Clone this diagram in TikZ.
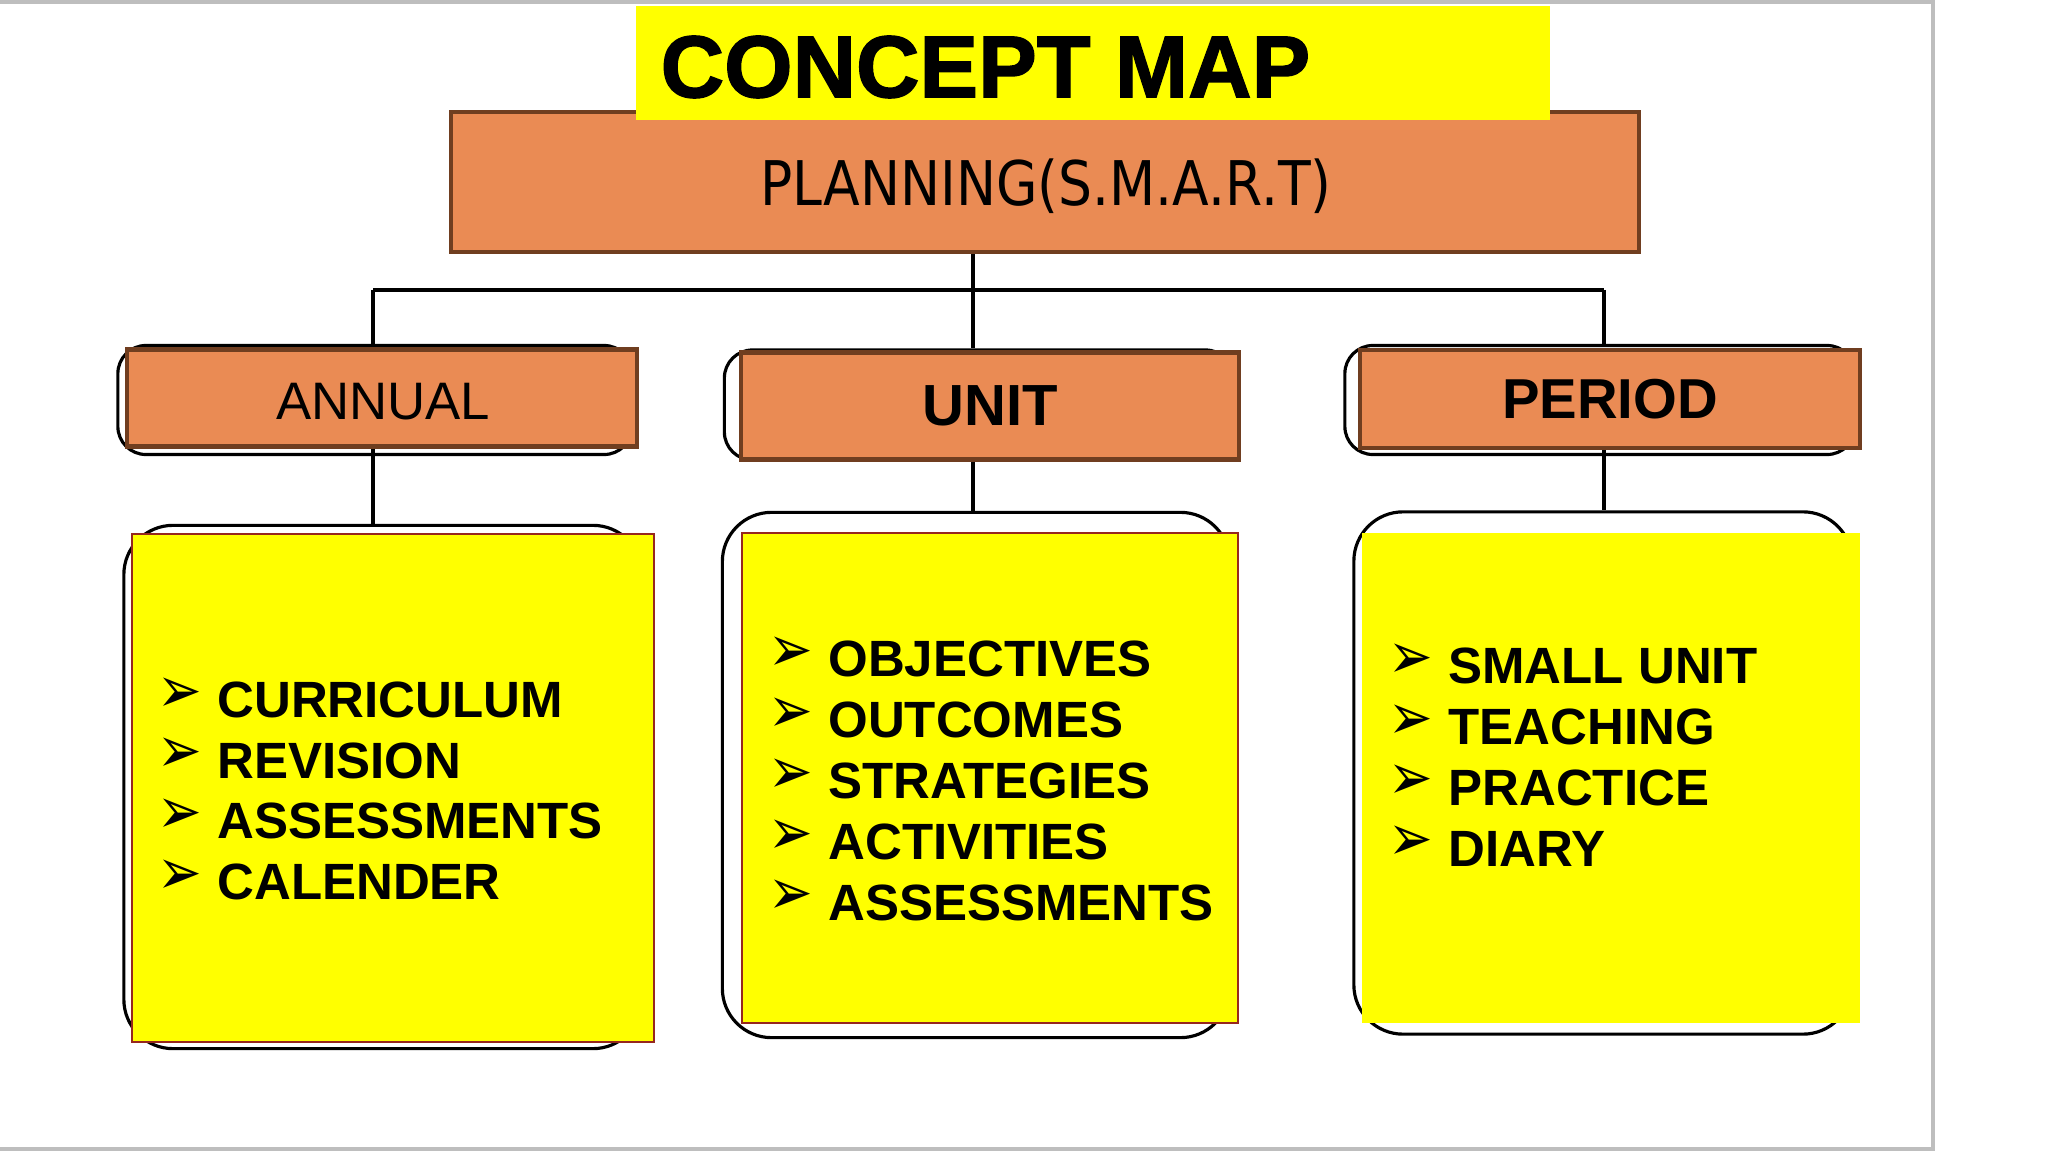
\documentclass[tikz,border=0pt]{standalone}
\usepackage{fontspec}
\setmainfont{Liberation Sans}
\newfontfamily\planfont[FakeStretch=0.87]{DejaVu Sans}
\newfontfamily\dingfont{DejaVu Sans}
\newfontfamily\titlefont[BoldFeatures={FakeBold=1.6}]{Liberation Sans}
\usetikzlibrary{positioning,calc}

\definecolor{boxorange}{RGB}{234,139,84}
\definecolor{boxbrown}{RGB}{112,62,32}
\definecolor{listyellow}{RGB}{255,255,0}
\definecolor{listred}{RGB}{150,40,30}
\definecolor{framegray}{RGB}{190,190,190}

\newcommand{\bul}{\makebox[17pt][l]{\smash{\raisebox{1.5pt}{\scalebox{0.92}[1.12]{\dingfont\fontsize{16.5}{16.5}\selectfont ➢}}}}}

\begin{document}
\begin{tikzpicture}[x=0.01cm,y=-0.01cm,
    head/.style={draw=boxbrown,line width=1.2pt,fill=boxorange,inner sep=0pt},
    shade/.style={draw=black,line width=0.9pt,rounded corners=8pt,inner sep=0pt},
    listbox/.style={fill=listyellow,inner sep=0pt},
    listback/.style={draw=black,line width=0.9pt,rounded corners=14pt,inner sep=0pt},
    items/.style={anchor=west,align=left,inner sep=0pt,
      font=\bfseries\fontsize{14.5}{17.3}\selectfont},
    link/.style={draw=black,line width=1.1pt}]
  \useasboundingbox (0,0) rectangle (2048,1152);
  \draw[framegray,line width=1.2pt] (0,2) -- (1933,2) -- (1933,1149) -- (0,1149);

  % top
  \node[head,minimum width=11.88cm,minimum height=1.40cm] (planning) at (1045,182) {};
  \node[inner sep=0pt] (planningtext) at (1046,186)
    {\planfont\fontsize{17.5}{20}\selectfont PLANNING(S.M.A.R.T)};
  \node[fill=listyellow,minimum width=9.14cm,minimum height=1.13cm,inner sep=0pt] (titlebox) at (1093,63) {};
  \node[anchor=west,inner sep=0pt,font=\titlefont\bfseries\fontsize{25}{27}\selectfont] (title) at (660,67) {CONCEPT MAP};

  % second row
  \node[shade,minimum width=5.14cm,minimum height=1.09cm] (annualshade) at (375,400) {};
  \node[shade,minimum width=5.09cm,minimum height=1.10cm] (unitshade) at (979,405) {};
  \node[shade,minimum width=5.10cm,minimum height=1.09cm] (periodshade) at (1600,400) {};
  \node[head,minimum width=5.10cm,minimum height=0.97cm] (annual) at (382,398) {};
  \node[inner sep=0pt] (annualtext) at (383,402) {\fontsize{15}{17}\selectfont ANNUAL};
  \node[head,minimum width=4.98cm,minimum height=1.07cm] (unit) at (990,406)
    {\bfseries\fontsize{16.5}{18}\selectfont UNIT};
  \node[head,minimum width=4.99cm,minimum height=0.98cm] (period) at (1610,399)
    {\bfseries\fontsize{16}{18}\selectfont PERIOD};

  % third row
  \node[listback,minimum width=5.18cm,minimum height=5.23cm] (annualback) at (383,787) {};
  \node[listback,minimum width=5.07cm,minimum height=5.25cm] (unitback) at (976,775) {};
  \node[listback,minimum width=4.98cm,minimum height=5.22cm] (periodback) at (1603,773) {};
  \node[listbox,draw=listred,line width=0.5pt,minimum width=5.22cm,minimum height=5.08cm] (annuallist) at (393,788) {};
  \node[listbox,draw=listred,line width=0.5pt,minimum width=4.96cm,minimum height=4.89cm] (unitlist) at (990,778) {};
  \node[listbox,minimum width=4.97cm,minimum height=4.89cm] (periodlist) at (1611,778) {};

  \node[items] (annualitems) at (157,791)
    {\bul CURRICULUM\\ \bul REVISION\\ \bul ASSESSMENTS\\ \bul CALENDER};
  \node[items] (unititems) at (768,781)
    {\bul OBJECTIVES\\ \bul OUTCOMES\\ \bul STRATEGIES\\ \bul ACTIVITIES\\ \bul ASSESSMENTS};
  \node[items] (perioditems) at (1388,757)
    {\bul SMALL UNIT\\ \bul TEACHING\\ \bul PRACTICE\\ \bul DIARY};

  % links
  \coordinate (hubA) at (373,290);
  \coordinate (hubU) at (973,290);
  \coordinate (hubP) at (1604,290);
  \draw[link] (planning.south -| hubU) -- (hubU);
  \draw[link] (hubA) -- (hubP);
  \draw[link] (hubA) -- (annualshade.north -| hubA);
  \draw[link] (hubU) -- (unitshade.north -| hubU);
  \draw[link] (hubP) -- (periodshade.north -| hubP);
  \draw[link] (annual.south -| hubA) -- (annualback.north -| hubA);
  \draw[link] (unit.south -| hubU) -- (unitback.north -| hubU);
  \draw[link] (period.south -| hubP) -- (periodback.north -| hubP);
\end{tikzpicture}
\end{document}
